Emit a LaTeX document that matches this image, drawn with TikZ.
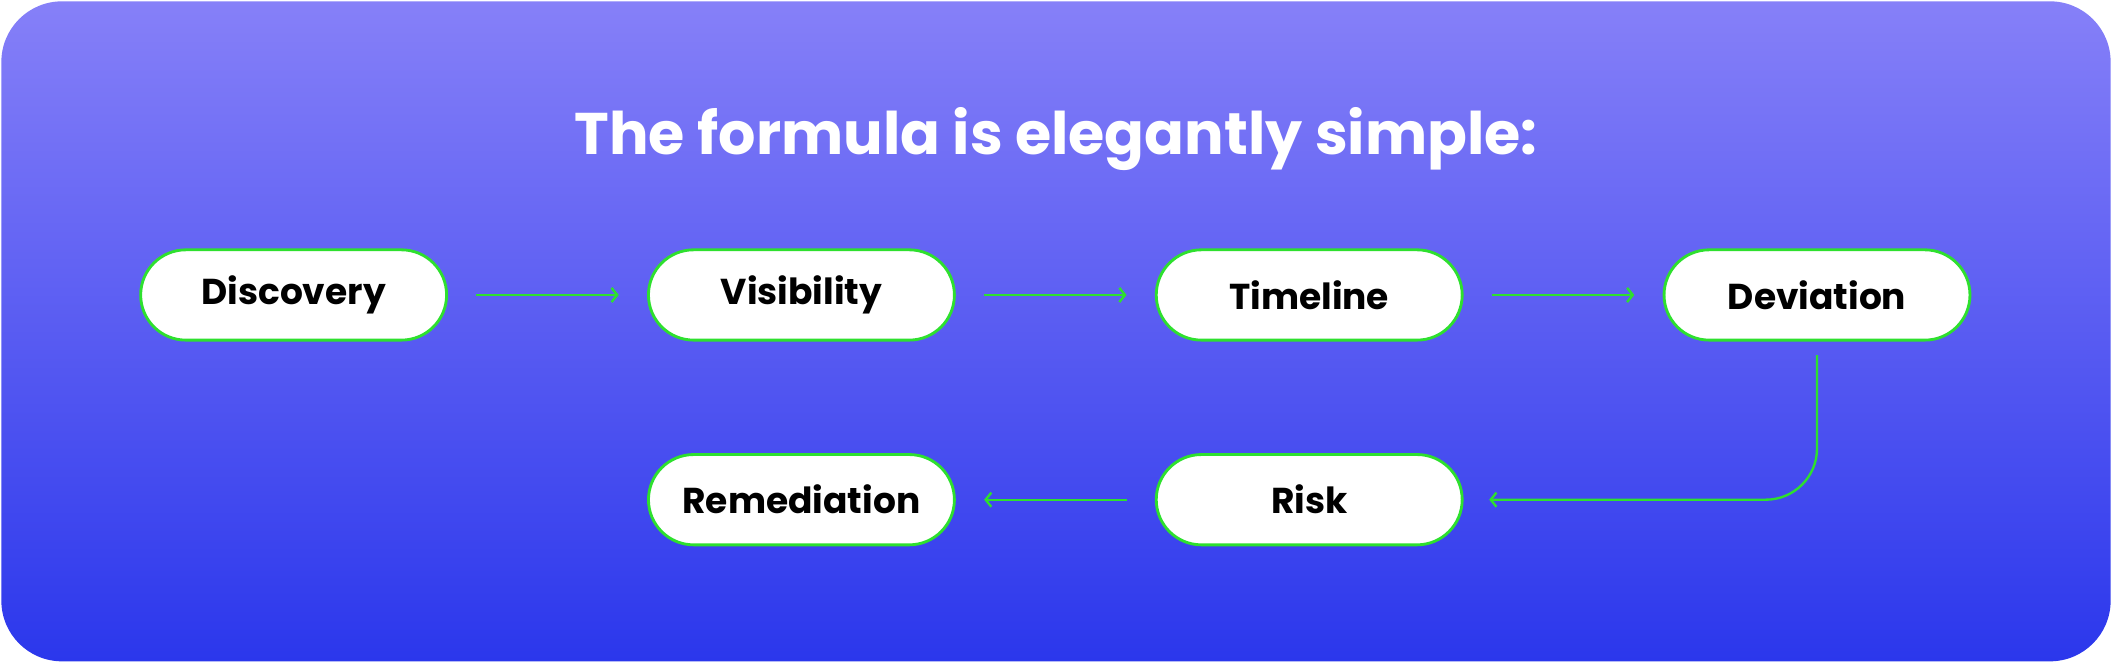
\documentclass[tikz,border=0pt]{standalone}
\usepackage{fontspec}
\setmainfont{Poppins}
\usetikzlibrary{arrows.meta}
\definecolor{topc}{HTML}{8680F8}
\definecolor{botc}{HTML}{2B37EC}
\definecolor{grn}{HTML}{2EE02E}
\tikzset{
  stage/.style={draw=grn, line width=0.6pt, fill=white, rounded corners=0.335cm,
    minimum width=2.27cm, minimum height=0.67cm, font=\fontsize{7.6pt}{9pt}\selectfont\bfseries, text=black},
  flow/.style={draw=grn, line width=0.5pt, -{Straight Barb[length=1.2pt,width=3pt]}}
}
\begin{document}
\begin{tikzpicture}[x=0.01cm,y=-0.01cm]
\useasboundingbox (0,0) rectangle (1568,492);
\shade[top color=topc, bottom color=botc, rounded corners=0.45cm] (1,1) rectangle (1567,491);
\node[text=white, font=\fontsize{12.4pt}{14pt}\selectfont\bfseries] (title) at (784,103) {The formula is elegantly simple:};
\node[stage] (d) at (218,219) {Discovery};
\node[stage] (v) at (595,219) {Visibility};
\node[stage] (t) at (972,219) {Timeline};
\node[stage] (dv) at (1349,219) {Deviation};
\node[stage] (rk) at (972,371) {Risk};
\node[stage] (rm) at (595,371) {Remediation};
\draw[flow, shorten <=0.21cm, shorten >=0.21cm] (d) -- (v);
\draw[flow, shorten <=0.21cm, shorten >=0.21cm] (v) -- (t);
\draw[flow, shorten <=0.21cm, shorten >=0.21cm] (t) -- (dv);
\draw[flow, rounded corners=0.38cm, shorten <=0.1cm, shorten >=0.19cm] (dv.south) -- (dv.south |- rk.east) -- (rk.east);
\draw[flow, shorten <=0.21cm, shorten >=0.21cm] (rk) -- (rm);
\end{tikzpicture}
\end{document}
